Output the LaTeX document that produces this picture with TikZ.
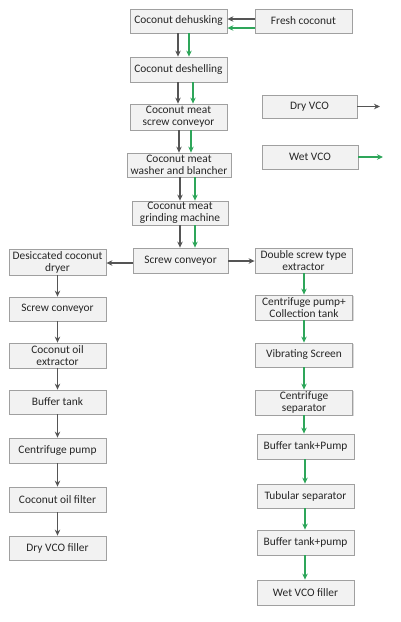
\documentclass[tikz,border=0pt]{standalone}
\usepackage{fontspec}
\setmainfont{Carlito}
\usetikzlibrary{arrows.meta,shadows}
\definecolor{boxfill}{RGB}{242,242,242}
\definecolor{boxline}{RGB}{160,160,160}
\definecolor{darkline}{RGB}{85,85,85}
\definecolor{greenline}{RGB}{46,166,90}
\tikzset{
  box/.style={draw=boxline, fill=boxfill, line width=0.8pt, minimum width=97pt, minimum height=24pt,
    inner sep=1pt, align=center, font=\fontsize{11.4}{12}\selectfont, text=black!85,
    drop shadow={shadow xshift=1pt, shadow yshift=-1pt, fill=black!25, opacity=0.6}},
  darr/.style={draw=darkline, line width=1.1pt, -{Stealth[length=6pt,width=5.5pt]}},
  garr/.style={draw=greenline, line width=1.1pt, -{Stealth[length=6pt,width=5.5pt]}}
}
\begin{document}
\begin{tikzpicture}[x=1pt,y=-1pt]
\useasboundingbox (0,0) rectangle (400,622);
% central column
\node[box] (dehusk) at (178.5,21) {Coconut dehusking};
\node[box] (fresh) at (303.5,21) {Fresh coconut};
\node[box, minimum height=25pt] (deshell) at (178.5,69.5) {Coconut deshelling};
\node[box, minimum height=26pt] (mscrew) at (178.5,117) {Coconut meat\\screw conveyor};
\node[box, minimum width=104pt] (washer) at (179,165) {Coconut meat\\washer and blancher};
\node[box, minimum width=96pt] (grind) at (180,213) {Coconut meat\\grinding machine};
\node[box, minimum width=95pt, minimum height=25pt] (screw) at (180.5,260.5) {Screw conveyor};
% legend
\node[box, minimum width=95pt, minimum height=23pt] (dry) at (309.5,106.5) {Dry VCO};
\node[box, minimum width=96pt] (wet) at (310,157) {Wet VCO};
\coordinate (dryend) at (380,106.5);
\coordinate (wetend) at (383,157);
% left column
\node[box, minimum height=26pt] (dryer) at (57.5,262) {Desiccated coconut\\dryer};
\node[box] (lscrew) at (57.5,309) {Screw conveyor};
\node[box, minimum height=25pt] (oilext) at (57.5,355.5) {Coconut oil\\extractor};
\node[box] (buffer) at (57.5,402) {Buffer tank};
\node[box, minimum height=25pt] (cpump) at (57.5,450.5) {Centrifuge pump};
\node[box, minimum height=25pt] (filter) at (57.5,499.5) {Coconut oil filter};
\node[box] (dryfill) at (57.5,548) {Dry VCO filler};
% right column
\node[box, minimum height=25pt] (double) at (303.5,260.5) {Double screw type\\extractor};
\node[box, minimum height=25pt] (cpcoll) at (304,307.5) {Centrifuge pump+\\Collection tank};
\node[box] (vib) at (304,355) {Vibrating Screen};
\node[box, minimum height=25pt] (csep) at (304,402.5) {Centrifuge\\separator};
\node[box, minimum height=25pt] (btp) at (305.5,446.5) {Buffer tank+Pump};
\node[box] (tub) at (305.5,496) {Tubular separator};
\node[box, minimum height=25pt] (btp2) at (305.5,542.5) {Buffer tank+pump};
\node[box, minimum height=25pt] (wetfill) at (305.5,592.5) {Wet VCO filler};
% top arrows
\draw[darr] (fresh.west |- 0,19) -- (dehusk.east |- 0,19);
\draw[garr] (fresh.west |- 0,28) -- (dehusk.east |- 0,28);
\draw[darr] (dehusk.south -| 178,0) -- (deshell.north -| 178,0);
\draw[garr] (dehusk.south -| 189,0) -- (deshell.north -| 189,0);
\draw[darr] (deshell.south -| 178,0) -- (mscrew.north -| 178,0);
\draw[garr] (deshell.south -| 193,0) -- (mscrew.north -| 193,0);
\draw[darr] (mscrew.south -| 179,0) -- (washer.north -| 179,0);
\draw[garr] (mscrew.south -| 191,0) -- (washer.north -| 191,0);
\draw[darr] (washer.south -| 180,0) -- (grind.north -| 180,0);
\draw[garr] (washer.south -| 195,0) -- (grind.north -| 195,0);
\draw[darr] (grind.south -| 180,0) -- (screw.north -| 180,0);
\draw[garr] (grind.south -| 195,0) -- (screw.north -| 195,0);
% legend arrows
\draw[darr] (dry.east) -- (dryend);
\draw[garr] (wet.east) -- (wetend);
% branches
\draw[darr] (screw.west |- 0,263) -- (dryer.east |- 0,263);
\draw[darr] (screw.east |- 0,261) -- (double.west |- 0,261);
% left chain
\draw[darr] (dryer) -- (lscrew);
\draw[darr] (lscrew) -- (oilext);
\draw[darr] (oilext) -- (buffer);
\draw[darr] (buffer) -- (cpump);
\draw[darr] (cpump) -- (filter);
\draw[darr] (filter) -- (dryfill);
% right chain
\draw[garr] (double.south -| 304,0) -- (cpcoll.north -| 304,0);
\draw[garr] (cpcoll.south -| 304,0) -- (vib.north -| 304,0);
\draw[garr] (vib.south -| 304,0) -- (csep.north -| 304,0);
\draw[garr] (csep.south -| 304,0) -- (btp.north -| 304,0);
\draw[garr] (btp.south -| 305,0) -- (tub.north -| 305,0);
\draw[garr] (tub.south -| 305,0) -- (btp2.north -| 305,0);
\draw[garr] (btp2.south -| 305,0) -- (wetfill.north -| 305,0);
\end{tikzpicture}
\end{document}
